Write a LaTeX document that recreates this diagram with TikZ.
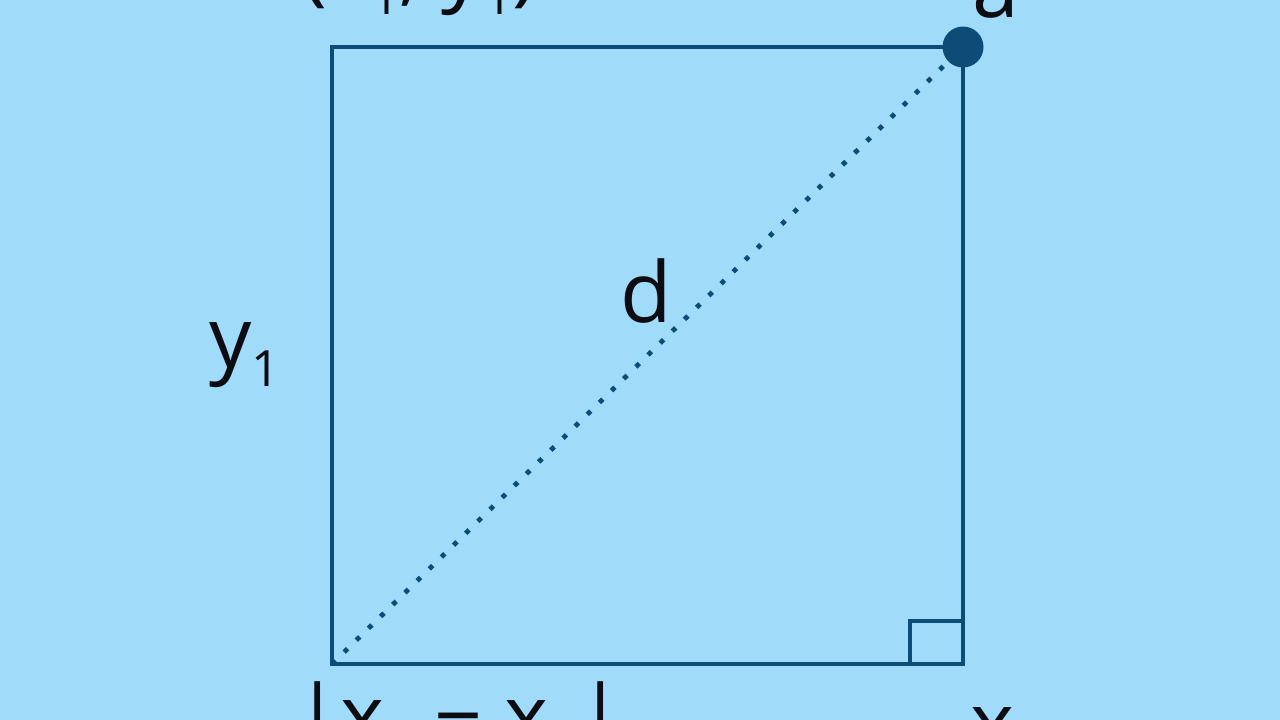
\documentclass[tikz,border=0pt]{standalone}
\usepackage{fontspec}
\setmainfont{Open Sans}
\definecolor{bgc}{RGB}{160,220,250}
\definecolor{linec}{RGB}{12,76,118}
\definecolor{textc}{RGB}{12,12,18}
\newcommand\sbx[1]{\raisebox{-19pt}{\fontsize{50}{50}\selectfont #1}}
\tikzset{
  edge/.style={draw=linec, line width=4.6pt, line join=miter},
  dotline/.style={draw=linec, line width=4.8pt, dash pattern=on 4.8pt off 12.2pt},
  lbl/.style={text=textc, inner sep=0pt, font=\fontsize{84}{84}\selectfont},
  vertex/.style={circle, fill=linec, minimum size=41pt, inner sep=0pt}
}
\begin{document}
\begin{tikzpicture}[x=1pt,y=-1pt]
\useasboundingbox (0,0) rectangle (1280,720);
\clip (0,0) rectangle (1280,720);
\fill[bgc] (0,0) rectangle (1280,720);
\coordinate (A) at (332,664);
\coordinate (B) at (963,664);
\coordinate (C) at (963,47);
\coordinate (D) at (332,47);
\coordinate (R1) at (910,664);
\coordinate (R2) at (963,621);
\draw[dotline] (A) -- (C);
\draw[edge] (D) -- (C) -- (B) -- (A) -- cycle;
\draw[edge] (R1) |- (R2);
\node[vertex] (P) at (C) {};
\node[lbl, anchor=base] (tl) at (420,-5) {(x\sbx{1}, y\sbx{1})};
\node[lbl, anchor=base] (tr) at (996,17) {a};
\node[lbl, anchor=base] (dl) at (646,322) {d};
\node[lbl, anchor=base] (yl) at (245,367) {y\sbx{1}};
\node[lbl, anchor=base] (bl) at (459,745) {|x\sbx{2} − x\sbx{1}|};
\node[lbl, anchor=base] (br) at (992,752) {x};
\end{tikzpicture}
\end{document}
